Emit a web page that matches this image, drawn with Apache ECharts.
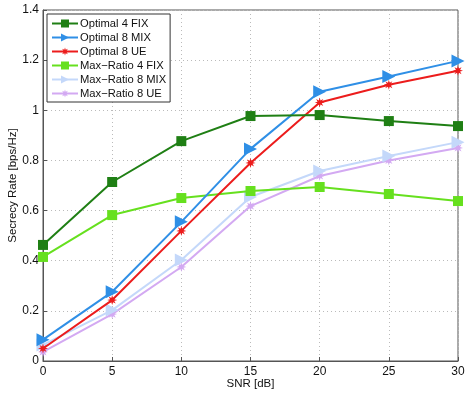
<!DOCTYPE html>
<html><head><meta charset="utf-8">
<script src="https://cdn.jsdelivr.net/npm/echarts@6/dist/echarts.min.js"></script>
<style>html,body{margin:0;padding:0;background:#fff}#c{width:474px;height:395px}</style>
</head><body><div id="c"></div>
<script>
const snr = [0, 5, 10, 15, 20, 25, 30];
const optimal4Fix = [0.463, 0.714, 0.877, 0.977, 0.981, 0.957, 0.937];
const optimal8Mix = [0.085, 0.276, 0.555, 0.846, 1.074, 1.135, 1.197];
const optimal8Ue = [0.05, 0.243, 0.519, 0.79, 1.031, 1.102, 1.158];
const maxRatio4Fix = [0.415, 0.582, 0.65, 0.678, 0.694, 0.666, 0.638];
const maxRatio8Mix = [0.064, 0.203, 0.403, 0.654, 0.758, 0.818, 0.873];
const maxRatio8Ue = [0.036, 0.187, 0.375, 0.618, 0.738, 0.80, 0.85];
const seriesNames = ['Optimal 4 FIX','Optimal 8 MIX','Optimal 8 UE','Max\u2212Ratio 4 FIX','Max\u2212Ratio 8 MIX','Max\u2212Ratio 8 UE'];
const yTicks = [0, 0.2, 0.4, 0.6, 0.8, 1, 1.2, 1.4];

const star = 'path://M10,0 L4.16,1.72 L7.07,7.07 L1.72,4.16 L0,10 L-1.72,4.16 L-7.07,7.07 L-4.16,1.72 L-10,0 L-4.16,-1.72 L-7.07,-7.07 L-1.72,-4.16 L0,-10 L1.72,-4.16 L7.07,-7.07 L4.16,-1.72 Z';
const tri = 'path://M0,0 L10,5 L0,10 Z';
const defs = [
  {data: optimal4Fix, color: '#1f7f14', symbol: 'rect', size: 10},
  {data: optimal8Mix, color: '#2f8fe6', symbol: tri, size: 13},
  {data: optimal8Ue, color: '#ec1c1c', symbol: star, size: 10},
  {data: maxRatio4Fix, color: '#66e01e', symbol: 'rect', size: 10},
  {data: maxRatio8Mix, color: '#c4d8fa', symbol: tri, size: 13},
  {data: maxRatio8Ue, color: '#d3a9f2', symbol: star, size: 10}
];
const chart = echarts.init(document.getElementById('c'));
chart.setOption({
  animation: false,
  backgroundColor: '#fff',
  textStyle: {fontFamily: 'Liberation Sans, Arial, sans-serif'},
  grid: {left: 43, right: 16, top: 10, bottom: 34, show: true, borderColor: '#555', borderWidth: 1, outerBoundsMode: 'none', containLabel: false},
  legend: {
    orient: 'vertical', left: 47, top: 14, padding: [4, 4, 3, 4],
    itemWidth: 26, itemHeight: 10, itemGap: 3,
    borderColor: '#333', borderWidth: 1, backgroundColor: '#fff',
    textStyle: {fontSize: 11.2, color: '#111', padding: [0, 0, 0, -3]},
    data: seriesNames
  },
  xAxis: {
    type: 'value', min: 0, max: 30, interval: 5,
    name: 'SNR [dB]', nameLocation: 'middle', nameGap: 17, nameMoveOverlap: false,
    nameTextStyle: {fontSize: 11.5, color: '#111'},
    axisLine: {lineStyle: {color: '#555'}},
    axisTick: {inside: true, length: 4, lineStyle: {color: '#555'}},
    axisLabel: {fontSize: 12, color: '#111', margin: 5},
    splitLine: {show: true, lineStyle: {type: [1, 3], color: '#bbb'}}
  },
  yAxis: {
    type: 'value', min: 0, max: 1.4, interval: 0.2,
    name: 'Secrecy Rate [bps/Hz]', nameLocation: 'middle', nameGap: 24, nameMoveOverlap: false,
    nameTextStyle: {fontSize: 11.5, color: '#111'},
    axisLine: {show: true, lineStyle: {color: '#555'}},
    axisTick: {show: true, inside: true, length: 4, lineStyle: {color: '#555'}},
    axisLabel: {fontSize: 12, color: '#111', margin: 4, formatter: v => String(yTicks.find(t => Math.abs(t - v) < 1e-9) ?? v)},
    splitLine: {show: true, lineStyle: {type: [1, 3], color: '#bbb'}}
  },
  series: defs.map((d, i) => ({
    name: seriesNames[i], type: 'line',
    data: snr.map((x, j) => [x, d.data[j]]),
    symbol: d.symbol, symbolSize: d.size, showSymbol: true,
    itemStyle: {color: d.color},
    lineStyle: {color: d.color, width: 2},
    z: 10 - i
  }))
});
</script></body></html>
